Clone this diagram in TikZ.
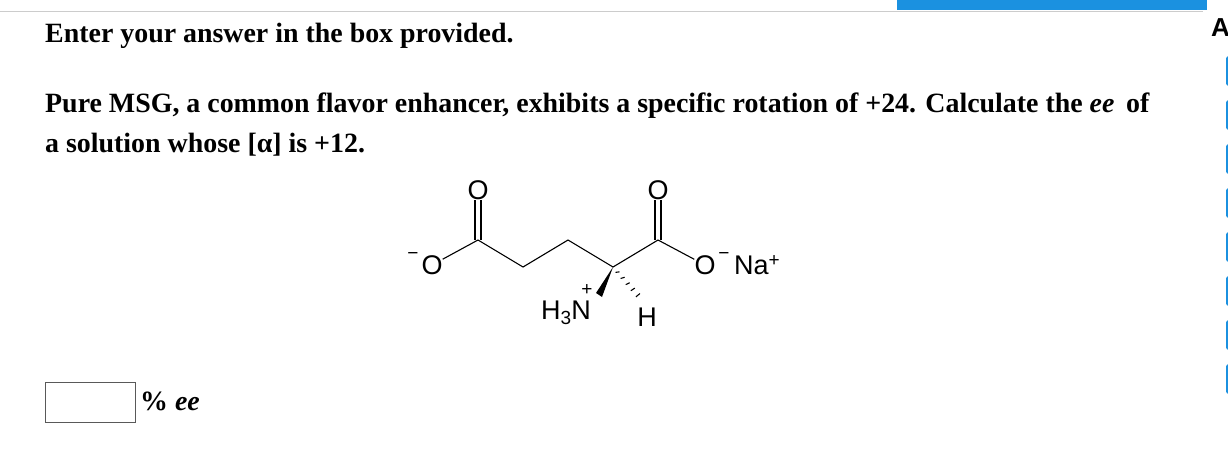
\documentclass[tikz,border=0pt]{standalone}
\usepackage{fontspec}
\setmainfont{Liberation Serif}
\newfontfamily\arial{Liberation Sans}
\usetikzlibrary{calc}
\definecolor{bbar}{RGB}{27,145,224}
\begin{document}
\begin{tikzpicture}[x=1pt,y=-1pt,
  q/.style={anchor=base west,inner sep=0,font=\fontsize{27.9}{32}\selectfont\bfseries},
  atm/.style={inner sep=0,font=\arial\fontsize{27}{30}\selectfont},
  sm/.style={inner sep=0,font=\arial\fontsize{19}{20}\selectfont},
  bd/.style={line width=1.1pt}]
\useasboundingbox (0,0) rectangle (1228,458);
\fill[white] (0,0) rectangle (1228,458);
\draw[gray!40] (0,11) -- (1203,11);
\fill[bbar] (897,0) rectangle (1207,10);
\node[anchor=north west,inner sep=0,font=\arial\bfseries\fontsize{26}{28}\selectfont] (A) at (1211,18) {A};
\foreach \y in {57,101,145,189,233,277,321,365} {\draw[line width=2pt,bbar,rounded corners=2pt] (1229,\y) -- (1227,\y) -- (1227,\y+28) -- (1229,\y+28);}
\node[q] (t1) at (45,42) {Enter your answer in the box provided.};
\node[q] (t2) at (45,112) {Pure MSG, a common flavor enhancer, exhibits a specific rotation of +24. Calculate the \textit{ee}\, of};
\node[q] (t3) at (45,152) {a solution whose [α] is +12.};
% molecule
\node[atm] (O1) at (432,265) {O};
\node[sm] (m1) at (413,256) {−};
\coordinate (C1) at (478,240);
\node[atm] (Ot1) at (478,190) {O};
\coordinate (C2) at (523,267);
\coordinate (C3) at (568,240);
\coordinate (C4) at (613,267);
\coordinate (C5) at (658,240);
\node[atm] (Ot2) at (658,190) {O};
\node[atm] (O2) at (705,265) {O};
\node[sm] (m2) at (724,256) {−};
\node[atm] (Na) at (757,265) {Na\raisebox{8pt}{\fontsize{19}{20}\selectfont+}};
\node[atm] (N) at (566,313) {H\raisebox{-5pt}{\fontsize{19}{20}\selectfont 3}N};
\node[sm] (pl) at (587,290) {+};
\node[atm] (H) at (647,317) {H};
\draw[bd] (O1) -- (C1) -- (C2) -- (C3) -- (C4) -- (C5) -- (O2);
\draw[bd] ([xshift=-3]C1) -- ([xshift=-3]Ot1.south);
\draw[bd] ([xshift=3]C1) -- ([xshift=3]Ot1.south);
\draw[bd] ([xshift=-3]C5) -- ([xshift=-3]Ot2.south);
\draw[bd] ([xshift=3]C5) -- ([xshift=3]Ot2.south);
\fill (C4) -- (596,293) -- (602,297) -- cycle;
\foreach \t in {0.15,0.32,0.49,0.66,0.83} {
  \draw[bd] ($(C4)!\t!(639,301)+(-{2+4*\t},{2*\t})$) -- ($(C4)!\t!(639,301)+({2+4*\t},{-2*\t})$);}
% answer
\draw[gray!70!black] (45,382) rectangle (135,422);
\node[anchor=west,inner sep=0,font=\fontsize{27.9}{32}\selectfont\bfseries] (ee) at (140,401) {\% \textit{ee}};
\end{tikzpicture}
\end{document}
